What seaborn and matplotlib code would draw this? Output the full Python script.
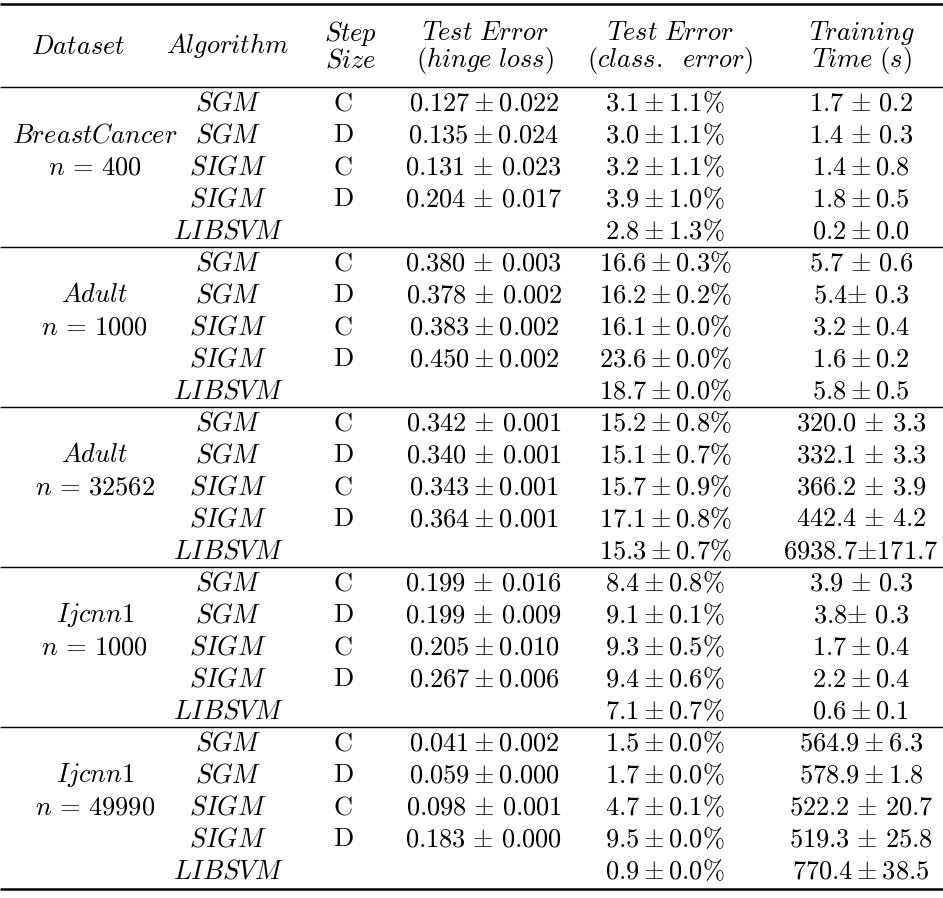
import matplotlib
matplotlib.use("Agg")
import matplotlib.pyplot as plt
import seaborn as sns

sns.set_theme(style="white")
plt.rcParams["mathtext.fontset"] = "cm"
plt.rcParams["font.family"] = ["DejaVu Serif", "DejaVu Sans"]

# ---------------- data ----------------
dataset_names = [r"$\mathit{BreastCancer}$", r"$\mathit{Adult}$", r"$\mathit{Adult}$",
                 r"$\mathit{Ijcnn}1$", r"$\mathit{Ijcnn}1$"]
dataset_sizes = ["400", "1000", "32562", "1000", "49990"]
algorithms = ["SGM", "SGM", "SIGM", "SIGM", "LIBSVM"]
step_sizes = ["C", "D", "C", "D", ""]

hinge_loss = [
    r"$0.127 \pm 0.022$", r"$0.135 \pm 0.024$", r"$0.131\ {\pm}\ 0.023$", r"$0.204\ {\pm}\ 0.017$", "",
    r"$0.380\ {\pm}\ 0.003$", r"$0.378\ {\pm}\ 0.002$", r"$0.383 \pm 0.002$", r"$0.450 \pm 0.002$", "",
    r"$0.342\ {\pm}\ 0.001$", r"$0.340\ {\pm}\ 0.001$", r"$0.343 \pm 0.001$", r"$0.364 \pm 0.001$", "",
    r"$0.199\ {\pm}\ 0.016$", r"$0.199\ {\pm}\ 0.009$", r"$0.205 \pm 0.010$", r"$0.267 \pm 0.006$", "",
    r"$0.041 \pm 0.002$", r"$0.059 \pm 0.000$", r"$0.098\ {\pm}\ 0.001$", r"$0.183\ {\pm}\ 0.000$", "",
]
class_error = [
    r"$3.1 \pm 1.1\%$", r"$3.0 \pm 1.1\%$", r"$3.2 \pm 1.1\%$", r"$3.9 \pm 1.0\%$", r"$2.8 \pm 1.3\%$",
    r"$16.6 \pm 0.3\%$", r"$16.2 \pm 0.2\%$", r"$16.1 \pm 0.0\%$", r"$23.6 \pm 0.0\%$", r"$18.7 \pm 0.0\%$",
    r"$15.2 \pm 0.8\%$", r"$15.1 \pm 0.7\%$", r"$15.7 \pm 0.9\%$", r"$17.1 \pm 0.8\%$", r"$15.3 \pm 0.7\%$",
    r"$8.4 \pm 0.8\%$", r"$9.1 \pm 0.1\%$", r"$9.3 \pm 0.5\%$", r"$9.4 \pm 0.6\%$", r"$7.1 \pm 0.7\%$",
    r"$1.5 \pm 0.0\%$", r"$1.7 \pm 0.0\%$", r"$4.7 \pm 0.1\%$", r"$9.5 \pm 0.0\%$", r"$0.9 \pm 0.0\%$",
]
training_time = [
    r"$1.7\ {\pm}\ 0.2$", r"$1.4\ {\pm}\ 0.3$", r"$1.4 \pm 0.8$", r"$1.8 \pm 0.5$", r"$0.2 \pm 0.0$",
    r"$5.7\ {\pm}\ 0.6$", r"$5.4{\pm}\ 0.3$", r"$3.2 \pm 0.4$", r"$1.6 \pm 0.2$", r"$5.8 \pm 0.5$",
    r"$320.0\ {\pm}\ 3.3$", r"$332.1\ {\pm}\ 3.3$", r"$366.2\ {\pm}\ 3.9$", r"$442.4\ {\pm}\ 4.2$", r"$6938.7{\pm}171.7$",
    r"$3.9\ {\pm}\ 0.3$", r"$3.8{\pm}\ 0.3$", r"$1.7 \pm 0.4$", r"$2.2 \pm 0.4$", r"$0.6 \pm 0.1$",
    r"$564.9 \pm 6.3$", r"$578.9 \pm 1.8$", r"$522.2\ {\pm}\ 20.7$", r"$519.3\ {\pm}\ 25.8$", r"$770.4 \pm 38.5$",
]

header_lines = [
    [r"$\mathit{Dataset}$"],
    [r"$\mathit{Algorithm}$"],
    [r"$\mathit{Step}$", r"$\mathit{Size}$"],
    [r"$\mathit{Test\ Error}$", r"$\mathit{(hinge\ loss)}$"],
    [r"$\mathit{Test\ Error}$", r"$\mathit{(class.\ \ error)}$"],
    [r"$\mathit{Training}$", r"$\mathit{Time\ (s)}$"],
]

# ---------------- layout ----------------
W, H = 943, 898
FS = 19
col_x = [95, 228, 343, 484, 665, 861]
head_x = [78, 228, 350, 485, 670, 862]
rule_top = 87
group_h = 160
row_off = 16
row_h = 32

fig = plt.figure(figsize=(W / 100, H / 100), dpi=100)
ax = fig.add_axes([0, 0, 1, 1])
ax.set_xlim(0, W)
ax.set_ylim(H, 0)
ax.axis("off")
sns.despine(ax=ax, left=True, bottom=True)


def put(x, y, s):
    ax.text(x, y, s, ha="center", va="center", fontsize=FS, color="black")


# rules
ax.plot([0, W], [3.5, 3.5], color="black", lw=1.8, solid_capstyle="butt")
for g in range(5):
    ax.plot([0, W], [rule_top + g * group_h] * 2, color="black", lw=1.0,
            solid_capstyle="butt")
ax.plot([0, W], [rule_top + 5 * group_h + 2] * 2, color="black", lw=1.8,
        solid_capstyle="butt")

# header
for x, lines in zip(head_x, header_lines):
    if len(lines) == 1:
        put(x, 46, lines[0])
    else:
        put(x, 33, lines[0])
        put(x, 60, lines[1])

# body
for g in range(5):
    base = rule_top + g * group_h + row_off
    put(col_x[0], base + row_h, dataset_names[g])
    put(col_x[0], base + 2 * row_h, r"$n\,=\,%s$" % dataset_sizes[g])
    for k in range(5):
        y = base + k * row_h
        i = g * 5 + k
        put(col_x[1], y, r"$%s$" % algorithms[k])
        if step_sizes[k]:
            put(col_x[2], y, r"$\mathrm{%s}$" % step_sizes[k])
        if hinge_loss[i]:
            put(col_x[3], y, hinge_loss[i])
        put(col_x[4], y, class_error[i])
        put(col_x[5], y, training_time[i])

fig.savefig("out.png", dpi=100, facecolor="white")
